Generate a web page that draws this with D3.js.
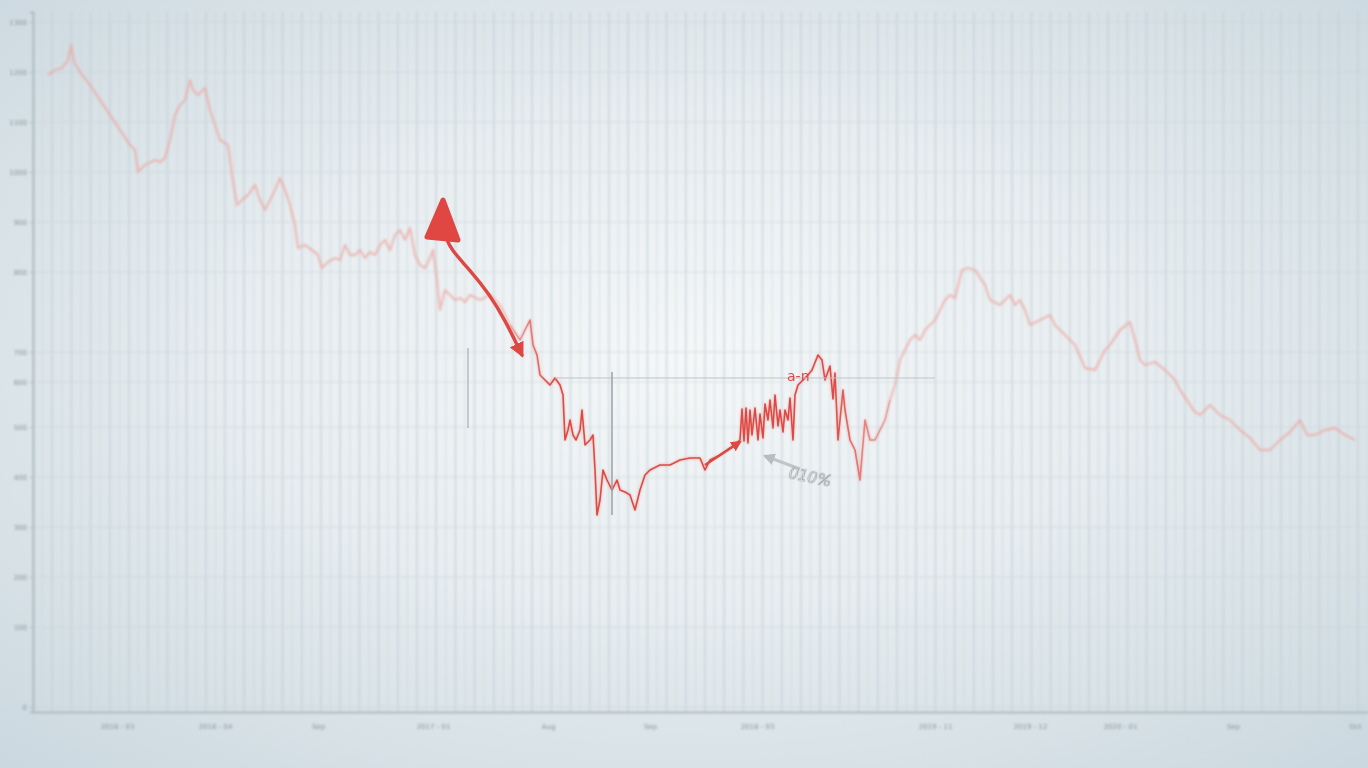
<!DOCTYPE html>
<html><head><meta charset="utf-8">
<script src="https://cdn.jsdelivr.net/npm/d3@7"></script>
<style>html,body{margin:0;padding:0;overflow:hidden;background:#dfe6ea}</style>
</head><body>
<svg id="c" width="1368" height="768"></svg>
<script>
// ---- data ----
const days = [15,22,29,35,38,41,47,57,67,77,87,97,102,105,112,122,127,132,137,142,147,152,157,160,165,172,177,182,187,195,199,204,209,215,222,227,232,237,242,247,252,257,262,265,272,279,285,289,295,302,307,312,317,322,327,332,337,342,347,352,357,362,367,372,377,382,387,392,397,400,404,407,412,417,422,427,432,437,447,457,467,477,
487,492,497,500,504,507,512,517,522,527,530,532,535,537,540,543,547,549,552,557,560,562,564,567,570,574,579,584,587,592,597,602,607,612,617,627,637,647,657,667,672,677,687,697,707,709,711,713,715,717,719,722,725,727,730,732,735,737,740,742,745,747,750,752,755,757,760,762,765,770,775,779,785,789,792,797,800,802,805,807,810,812,817,822,827,832,837,842,847,852,
857,862,867,872,877,882,887,892,897,902,912,917,922,929,935,942,952,957,967,977,982,987,992,997,1007,1017,1022,1032,1042,1052,1062,1067,1072,1077,1087,1097,1102,1107,1112,1122,1132,1142,1147,1157,1162,1167,1177,1187,1197,1207,1217,1227,1237,1247,1257,1267,1274,1282,1292,1302,1312,1322,1335];
const values = [127.4,128.4,128.8,130.4,133.4,130,128,125.4,122.4,119.4,116.4,113.4,112.4,108,109.4,110.4,110,110.8,114.4,119.4,121.4,122.4,126.4,124.4,123.4,124.8,120.4,117.4,114.4,113.4,107.4,101.4,102.4,103.4,105.4,102.4,100.4,102.4,104.4,106.8,104.4,101.4,97.4,92.8,93.4,92.4,91.4,88.8,90,90.8,90.4,93.4,91.4,91.4,92.4,90.8,92,91.4,93.4,94.4,92.4,95.4,96.4,94.4,96.8,91.4,89.4,88.8,90.8,92.4,86.4,80.4,84.4,83.4,82.4,82.8,82,83.4,82.4,83.4,81.4,77.4,
74.4,76.4,78.4,73.4,71.4,67.4,66.4,65.4,66.8,65.4,63.4,54.4,56.4,58.4,55.4,54.4,56.4,60.4,53.4,54.4,55.4,48.4,39.4,42.4,48.4,46.4,44.4,46.4,44.4,44,43.4,40.4,44.4,47.4,48.4,49.4,49.4,50.4,50.8,50.8,48.4,50.4,51.4,52.8,54.4,60.6,54.2,60.8,53.8,60.4,55.4,60.8,54.4,59.6,54.8,61.6,58.4,62.4,56.8,63.4,57.2,60.4,56,60.4,58.4,62.8,54.4,63.4,65.4,66.4,67.4,68.4,71.4,70.4,66.4,69.2,62.6,67.8,54.4,58.4,64.4,60.4,54.4,52.4,46.4,58.4,54.4,54.4,56.4,
58.4,62.4,65.4,70.4,72.4,74.4,75.4,74.4,76.4,77.4,78.4,82.4,83.4,82.8,88.4,88.8,88.4,85.4,82.4,81.4,83.4,81.4,82.4,80.4,77.4,78.4,79.4,77.4,75.4,73.4,68.8,68.4,70.4,72.4,73.4,76.4,78,74.4,70.4,69.4,70,68.4,66.4,64.4,61.4,60,59.4,61.4,59.4,58.4,56.4,54.8,52.4,52.4,54.4,56,58.4,55.4,55.4,56.4,56.8,55.4,54.4];
const focusStart = 477, focusEnd = 857;           // highlighted stretch (days)
const yTickValues = [1,17,27,37,47,57,66,72,88,98,108,118,128,138];
const yTickLabels = ["0","100","200","300","400","500","600","700","800","900","1000","1100","1200","1300"];
const xTickValues = [84,182,285,400,515,617,724,902,997,1087,1200,1322];
const xTickLabels = ["2016 - 03","2016 - 04","Sep","2017 - 01","Aug","Sep","2018 - 03","2019 - 11","2019 - 12","2020 - 01","Sep","Oct"];
// annotations (data units)
const bigArrow = [[412,95.4],[418,92.4],[437,88.4],[457,83.4],[472,78.4],[489,71.4]];
const bigHead = [[410,102.4],[394,95],[425,94.4]];
const smallArrow = [[672,49.4],[707,54]];
const grayArrow = [[767,48.6],[732,51.2]];
const refVLines = [[435,72.8,56.8],[579,68,39.4]];
const refHLine = [522,902,66.8];

// ---- layout ----
const W = 1368, H = 768;
const x = d3.scaleLinear().domain([0,1335]).range([33,1368]);
const y = d3.scaleLinear().domain([0,140]).range([712,12]);
const svg = d3.select("#c");
const defs = svg.append("defs");
const rg = defs.append("radialGradient").attr("id","bg").attr("cx","0.5").attr("cy","0.47").attr("r","0.72");
rg.append("stop").attr("offset","0").attr("stop-color","#f5f7f8");
rg.append("stop").attr("offset","0.45").attr("stop-color","#e7edf0");
rg.append("stop").attr("offset","1").attr("stop-color","#cbd8df");
defs.append("filter").attr("id","blur2").attr("x","-5%").attr("y","-5%").attr("width","110%").attr("height","110%")
  .append("feGaussianBlur").attr("stdDeviation",1.3);
defs.append("filter").attr("id","blur1")
  .append("feGaussianBlur").attr("stdDeviation",0.55);
defs.append("marker").attr("id","ah").attr("viewBox","0 0 10 10").attr("refX",8).attr("refY",5)
  .attr("markerWidth",4.5).attr("markerHeight",4.5).attr("orient","auto")
  .append("path").attr("d","M0,0L10,5L0,10Z").attr("fill","#de4642");
defs.append("marker").attr("id","ahg").attr("viewBox","0 0 10 10").attr("refX",8).attr("refY",5)
  .attr("markerWidth",4).attr("markerHeight",4).attr("orient","auto")
  .append("path").attr("d","M0,0L10,5L0,10Z").attr("fill","#b8bdc0");

svg.append("rect").attr("width",W).attr("height",H).attr("fill","url(#bg)");

// grid
const g = svg.append("g").attr("filter","url(#blur2)");
const vgrid = d3.range(0,1336,9.6);
g.selectAll("line.v").data(vgrid).join("line")
  .attr("x1",d=>x(d)).attr("x2",d=>x(d)).attr("y1",y(140)).attr("y2",y(0))
  .attr("stroke",(d,i)=> i%2===0 ? "#c2ced5" : "#cdd7dd").attr("stroke-width",(d,i)=> i%2===0?1.5:1).attr("opacity",0.7);
g.selectAll("line.h").data(yTickValues).join("line")
  .attr("x1",x(0)).attr("x2",x(1335)).attr("y1",d=>y(d)).attr("y2",d=>y(d))
  .attr("stroke","#c8d3d9").attr("stroke-width",1).attr("opacity",0.6);

// axes
const yAxis = d3.axisLeft(y).tickValues(yTickValues).tickFormat((d,i)=>yTickLabels[i]).tickSize(3);
const xAxis = d3.axisBottom(x).tickValues(xTickValues).tickFormat((d,i)=>xTickLabels[i]).tickSize(0).tickPadding(12);
const ya = g.append("g").attr("transform",`translate(${x(0)},0)`).call(yAxis);
const xa = g.append("g").attr("transform",`translate(0,${y(0)})`).call(xAxis);
[ya,xa].forEach(a=>{
  a.select(".domain").attr("stroke","#aebbc2").attr("stroke-width",2);
  a.selectAll(".tick line").attr("stroke","#aebbc2");
  a.selectAll("text").attr("fill","#8c979d").attr("font-family","DejaVu Sans").attr("font-size",7);
});

// faded full line
const line = d3.line().x((d,i)=>x(days[i])).y((d,i)=>y(values[i])).curve(d3.curveLinear);
svg.append("path").datum(values).attr("d",line)
  .attr("fill","none").attr("stroke","#eda8a2").attr("stroke-width",2.3).attr("opacity",0.7)
  .attr("stroke-linejoin","round").attr("filter","url(#blur2)");

// focus stretch
const idx = d3.range(days.length).filter(i=>days[i]>=focusStart && days[i]<=focusEnd);
const fl = d3.line().x(i=>x(days[i])).y(i=>y(values[i]));
const lg = defs.append("linearGradient").attr("id","fg").attr("gradientUnits","userSpaceOnUse")
  .attr("x1",x(focusStart)).attr("x2",x(focusEnd)).attr("y1",0).attr("y2",0);
lg.append("stop").attr("offset","0").attr("stop-color","#e05a55").attr("stop-opacity",0.25);
lg.append("stop").attr("offset","0.1").attr("stop-color","#de4a45").attr("stop-opacity",1);
lg.append("stop").attr("offset","0.85").attr("stop-color","#de4a45").attr("stop-opacity",1);
lg.append("stop").attr("offset","1").attr("stop-color","#e05a55").attr("stop-opacity",0.25);
svg.append("path").datum(idx).attr("d",fl)
  .attr("fill","none").attr("stroke","url(#fg)").attr("stroke-width",1.6)
  .attr("stroke-linejoin","round").attr("filter","url(#blur1)");

// reference lines
const ref = svg.append("g").attr("filter","url(#blur1)");
ref.append("line").attr("x1",x(refHLine[0])).attr("x2",x(refHLine[1])).attr("y1",y(refHLine[2])).attr("y2",y(refHLine[2]))
  .attr("stroke","#bcc3c7").attr("stroke-width",1);
ref.selectAll("line.rv").data(refVLines).join("line")
  .attr("x1",d=>x(d[0])).attr("x2",d=>x(d[0])).attr("y1",d=>y(d[1])).attr("y2",d=>y(d[2]))
  .attr("stroke",(d,i)=>i?"#9aa2a6":"#b5bcc0").attr("stroke-width",1.5);

// annotations
const ann = svg.append("g").attr("filter","url(#blur1)");
const al = d3.line().x(d=>x(d[0])).y(d=>y(d[1])).curve(d3.curveBasis);
ann.append("path").datum(bigArrow).attr("d",al).attr("fill","none").attr("stroke","#de4642").attr("stroke-width",3.4)
  .attr("stroke-linecap","round").attr("marker-end","url(#ah)");
ann.append("path").datum(bigHead).attr("d",d3.line().x(d=>x(d[0])).y(d=>y(d[1])).curve(d3.curveLinearClosed))
  .attr("fill","#e04743").attr("stroke","#e04743").attr("stroke-width",5).attr("stroke-linejoin","round");
ann.append("path").datum(smallArrow).attr("d",d3.line().x(d=>x(d[0])).y(d=>y(d[1])))
  .attr("stroke","#de4642").attr("stroke-width",2.4).attr("fill","none").attr("marker-end","url(#ah)");
ann.append("path").datum(grayArrow).attr("d",d3.line().x(d=>x(d[0])).y(d=>y(d[1])))
  .attr("stroke","#c0c5c8").attr("stroke-width",3).attr("fill","none").attr("marker-end","url(#ahg)");
ann.append("text").attr("x",x(754)).attr("y",y(66.2)).attr("fill","#de4a45").attr("font-family","DejaVu Sans")
  .attr("font-size",14).text("a-n");
ann.append("text").attr("transform",`translate(${x(755)},${y(46.8)}) rotate(12)`).attr("fill","#f3f5f6")
  .attr("stroke","#959ca0").attr("stroke-width",0.7).attr("font-family","DejaVu Sans").attr("font-style","italic")
  .attr("font-size",15).text("010%");
</script>
</body></html>
